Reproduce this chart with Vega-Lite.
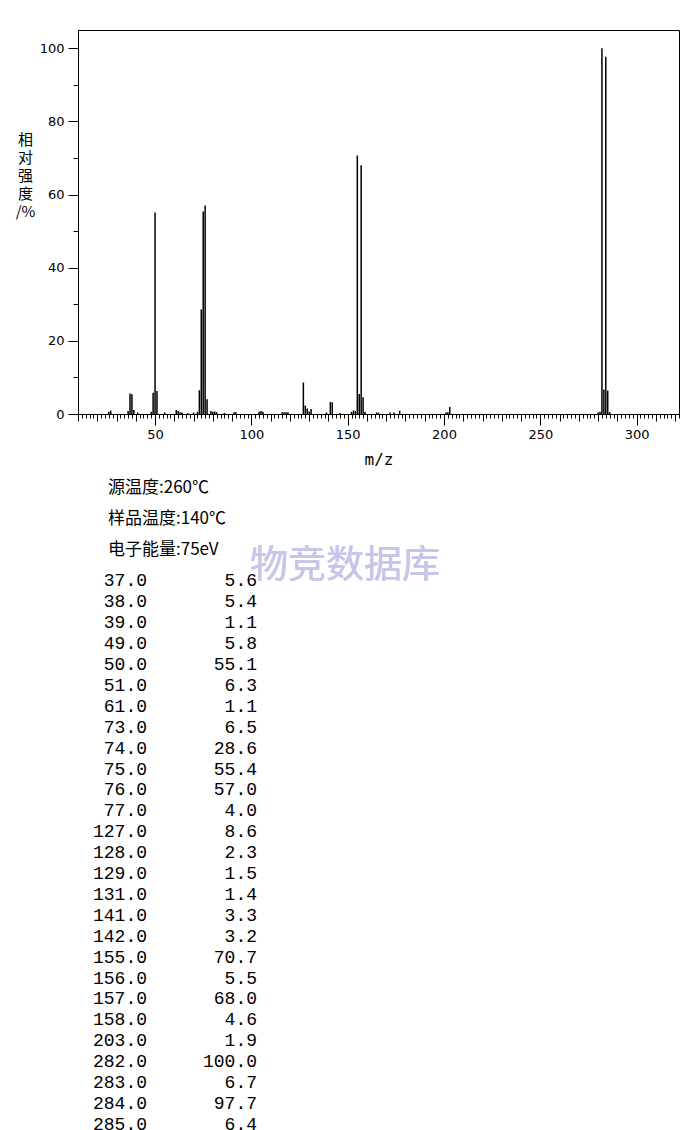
{
  "$schema": "https://vega.github.io/schema/vega-lite/v6.json",
  "padding": {"left": 14, "top": 29, "right": 0, "bottom": 0},
  "spacing": 4,
  "background": "white",
  "config": {
    "view": {"stroke": null},
    "font": "DejaVu Sans"
  },
  "datasets": {
    "spectrum": [
      {"mz": 26, "intensity": 0.6}, {"mz": 27, "intensity": 0.9}, {"mz": 36, "intensity": 0.8},
      {"mz": 37, "intensity": 5.6}, {"mz": 38, "intensity": 5.4}, {"mz": 39, "intensity": 1.1},
      {"mz": 41, "intensity": 0.4}, {"mz": 48, "intensity": 0.6}, {"mz": 49, "intensity": 5.8},
      {"mz": 50, "intensity": 55.1}, {"mz": 51, "intensity": 6.3}, {"mz": 55, "intensity": 0.4},
      {"mz": 61, "intensity": 1.1}, {"mz": 62, "intensity": 0.8}, {"mz": 63, "intensity": 0.5},
      {"mz": 64, "intensity": 0.4}, {"mz": 67, "intensity": 0.3}, {"mz": 70, "intensity": 0.4},
      {"mz": 72, "intensity": 0.6}, {"mz": 73, "intensity": 6.5}, {"mz": 74, "intensity": 28.6},
      {"mz": 75, "intensity": 55.4}, {"mz": 76, "intensity": 57.0}, {"mz": 77, "intensity": 4.0},
      {"mz": 79, "intensity": 0.8}, {"mz": 80, "intensity": 0.6}, {"mz": 81, "intensity": 0.7},
      {"mz": 82, "intensity": 0.5}, {"mz": 86, "intensity": 0.3}, {"mz": 91, "intensity": 0.5},
      {"mz": 92, "intensity": 0.5}, {"mz": 104, "intensity": 0.6}, {"mz": 105, "intensity": 0.8},
      {"mz": 106, "intensity": 0.6}, {"mz": 116, "intensity": 0.5}, {"mz": 117, "intensity": 0.5},
      {"mz": 118, "intensity": 0.5}, {"mz": 119, "intensity": 0.5}, {"mz": 127, "intensity": 8.6},
      {"mz": 128, "intensity": 2.3}, {"mz": 129, "intensity": 1.5}, {"mz": 130, "intensity": 0.7},
      {"mz": 131, "intensity": 1.4}, {"mz": 139, "intensity": 0.4}, {"mz": 141, "intensity": 3.3},
      {"mz": 142, "intensity": 3.2}, {"mz": 146, "intensity": 0.3}, {"mz": 152, "intensity": 0.6},
      {"mz": 153, "intensity": 1.0}, {"mz": 154, "intensity": 0.8}, {"mz": 155, "intensity": 70.7},
      {"mz": 156, "intensity": 5.5}, {"mz": 157, "intensity": 68.0}, {"mz": 158, "intensity": 4.6},
      {"mz": 159, "intensity": 0.6}, {"mz": 165, "intensity": 0.4}, {"mz": 166, "intensity": 0.4},
      {"mz": 172, "intensity": 0.4}, {"mz": 174, "intensity": 0.4}, {"mz": 177, "intensity": 0.9},
      {"mz": 201, "intensity": 0.4}, {"mz": 202, "intensity": 0.5}, {"mz": 203, "intensity": 1.9},
      {"mz": 280, "intensity": 0.4}, {"mz": 281, "intensity": 0.6}, {"mz": 282, "intensity": 100.0},
      {"mz": 283, "intensity": 6.7}, {"mz": 284, "intensity": 97.7}, {"mz": 285, "intensity": 6.4},
      {"mz": 286, "intensity": 0.5}
    ],
    "table": [
      {"mz": 37, "intensity": 5.6}, {"mz": 38, "intensity": 5.4}, {"mz": 39, "intensity": 1.1},
      {"mz": 49, "intensity": 5.8}, {"mz": 50, "intensity": 55.1}, {"mz": 51, "intensity": 6.3},
      {"mz": 61, "intensity": 1.1}, {"mz": 73, "intensity": 6.5}, {"mz": 74, "intensity": 28.6},
      {"mz": 75, "intensity": 55.4}, {"mz": 76, "intensity": 57.0}, {"mz": 77, "intensity": 4.0},
      {"mz": 127, "intensity": 8.6}, {"mz": 128, "intensity": 2.3}, {"mz": 129, "intensity": 1.5},
      {"mz": 131, "intensity": 1.4}, {"mz": 141, "intensity": 3.3}, {"mz": 142, "intensity": 3.2},
      {"mz": 155, "intensity": 70.7}, {"mz": 156, "intensity": 5.5}, {"mz": 157, "intensity": 68.0},
      {"mz": 158, "intensity": 4.6}, {"mz": 203, "intensity": 1.9}, {"mz": 282, "intensity": 100.0},
      {"mz": 283, "intensity": 6.7}, {"mz": 284, "intensity": 97.7}, {"mz": 285, "intensity": 6.4}
    ],
    "header": [
      {"line": 1, "text": "源温度:260℃"},
      {"line": 2, "text": "样品温度:140℃"},
      {"line": 3, "text": "电子能量:75eV"}
    ]
  },
  "vconcat": [
    {
      "width": 601,
      "height": 384,
      "view": {"stroke": "black", "strokeWidth": 1},
      "data": {"name": "spectrum"},
      "mark": {"type": "rule", "color": "black", "strokeWidth": 1.5},
      "encoding": {
        "x": {
          "field": "mz",
          "type": "quantitative",
          "scale": {"domain": [10, 322], "nice": false, "zero": false},
          "axis": {
            "title": "m/z",
            "titleFont": "DejaVu Sans Mono",
            "titleFontSize": 16,
            "titleFontWeight": "normal",
            "titleColor": "black",
            "titlePadding": 10,
            "tickCount": 156,
            "labelExpr": "datum.value % 50 === 0 ? datum.label : ''",
            "labelOverlap": false,
            "labelFlush": false,
            "labelFont": "DejaVu Sans",
            "labelFontSize": 13,
            "labelColor": "black",
            "labelPadding": 3,
            "grid": false,
            "domainColor": "black",
            "tickColor": "black",
            "tickWidth": 1,
            "tickSize": {
              "condition": [
                {"test": "datum.value % 50 === 0", "value": 11},
                {"test": "datum.value % 10 === 0", "value": 7}
              ],
              "value": 4
            }
          }
        },
        "y": {
          "field": "intensity",
          "type": "quantitative",
          "scale": {"domain": [0, 105], "nice": false},
          "axis": {
            "title": ["相", "对", "强", "度", "/%"],
            "titleAngle": 0,
            "titleFont": "Noto Sans CJK SC",
            "titleFontSize": 15,
            "titleFontWeight": "normal",
            "titleLineHeight": 18,
            "titleColor": "black",
            "titleAlign": "center",
            "titleBaseline": "top",
            "titleX": -53,
            "titleY": 102,
            "values": [0, 10, 20, 30, 40, 50, 60, 70, 80, 90, 100],
            "labelExpr": "datum.value % 20 === 0 ? datum.label : ''",
            "labelFont": "DejaVu Sans",
            "labelFontSize": 13,
            "labelColor": "black",
            "labelPadding": 4,
            "grid": false,
            "domainColor": "black",
            "tickColor": "black",
            "tickSize": {
              "condition": {"test": "datum.value % 20 === 0", "value": 10},
              "value": 5
            }
          }
        },
        "y2": {"datum": 0}
      }
    },
    {
      "bounds": "flush",
      "spacing": 6,
      "vconcat": [
        {
          "width": 601,
          "height": 93,
          "data": {"name": "header"},
          "layer": [
            {
              "mark": {"type": "text", "align": "left", "baseline": "middle", "font": "Noto Sans CJK SC", "fontSize": 17, "color": "black"},
              "encoding": {
                "y": {"field": "line", "type": "ordinal", "axis": null},
                "x": {"datum": "text", "type": "nominal", "axis": null, "scale": {"domain": ["text", "watermark"], "range": [30, 267], "padding": 0}},
                "text": {"field": "text", "type": "nominal"}
              }
            },
            {
              "mark": {"type": "text", "align": "center", "baseline": "middle", "font": "Noto Sans CJK SC", "fontSize": 38, "color": "#c6c6ea", "dy": 16},
              "encoding": {
                "y": {"datum": 3, "type": "ordinal"},
                "x": {"datum": "watermark", "type": "nominal"},
                "text": {"value": "物竞数据库"}
              }
            }
          ]
        },
        {
          "width": 601,
          "height": {"step": 20.9},
          "data": {"name": "table"},
          "transform": [{"fold": ["mz", "intensity"], "as": ["column", "value"]}],
          "mark": {"type": "text", "align": "right", "baseline": "middle", "font": "Liberation Mono", "fontSize": 18, "color": "black"},
          "encoding": {
            "y": {"field": "mz", "type": "ordinal", "axis": null},
            "x": {"field": "column", "type": "nominal", "axis": null, "scale": {"domain": ["mz", "intensity"], "range": [69, 179], "padding": 0}},
            "text": {"field": "value", "type": "quantitative", "format": ".1f"}
          }
        }
      ]
    }
  ]
}
